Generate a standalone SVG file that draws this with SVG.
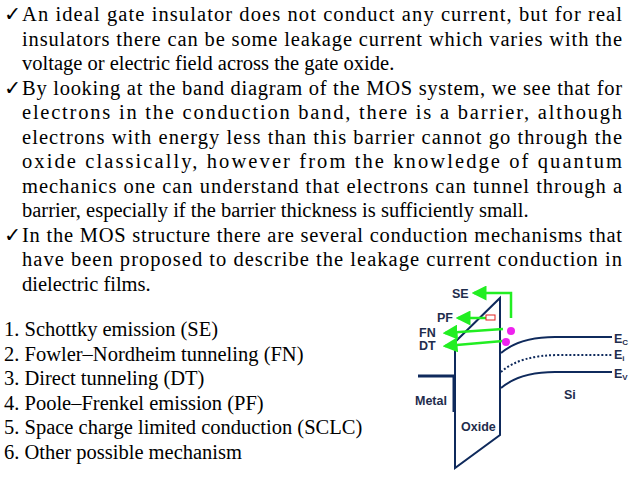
<svg xmlns="http://www.w3.org/2000/svg" width="638" height="478" viewBox="0 0 638 478">
<style>
.t{font-size:20.5px;fill:#000}
.l{font-family:"Liberation Sans",Arial,sans-serif;font-weight:bold;font-size:12.5px;fill:#1f2d4d}
.b{fill:none;stroke:#0f2a5c;stroke-width:2}
.g{stroke:#22ee22;stroke-width:2.5;fill:none;marker-end:url(#ah)}
</style>
<defs>
<marker id="ah" markerWidth="6" markerHeight="6" refX="5" refY="3" orient="auto" markerUnits="strokeWidth"><path d="M0,0 L6,3 L0,6 z" fill="#22ee22"/></marker>
</defs>
<rect width="638" height="478" fill="#fff"/>
<g id="text" font-family="Liberation Serif, Times New Roman, serif">
<text class="t" x="4" y="21" font-family="DejaVu Sans, sans-serif" font-size="16">✓</text>
<text class="t" x="22" y="21" textLength="600" lengthAdjust="spacing">An ideal gate insulator does not conduct any current, but for real</text>
<text class="t" x="22" y="45.5" textLength="600" lengthAdjust="spacing">insulators there can be some leakage current which varies with the</text>
<text class="t" x="22" y="70">voltage or electric field across the gate oxide.</text>
<text class="t" x="4" y="94.5" font-family="DejaVu Sans, sans-serif" font-size="16">✓</text>
<text class="t" x="22" y="94.5" textLength="600" lengthAdjust="spacing">By looking at the band diagram of the MOS system, we see that for</text>
<text class="t" x="22" y="119" textLength="600" lengthAdjust="spacing">electrons in the conduction band, there is a barrier, although</text>
<text class="t" x="22" y="143.5" textLength="600" lengthAdjust="spacing">electrons with energy less than this barrier cannot go through the</text>
<text class="t" x="22" y="168" textLength="600" lengthAdjust="spacing">oxide classically, however from the knowledge of quantum</text>
<text class="t" x="22" y="192.5" textLength="600" lengthAdjust="spacing">mechanics one can understand that electrons can tunnel through a</text>
<text class="t" x="22" y="217">barrier, especially if the barrier thickness is sufficiently small.</text>
<text class="t" x="4" y="241.5" font-family="DejaVu Sans, sans-serif" font-size="16">✓</text>
<text class="t" x="22" y="241.5" textLength="600" lengthAdjust="spacing">In the MOS structure there are several conduction mechanisms that</text>
<text class="t" x="22" y="266" textLength="600" lengthAdjust="spacing">have been proposed to describe the leakage current conduction in</text>
<text class="t" x="22" y="290.5">dielectric films.</text>
<text class="t" x="4" y="336">1.  Schottky emission (SE)</text>
<text class="t" x="4" y="360.5">2.  Fowler–Nordheim tunneling (FN)</text>
<text class="t" x="4" y="385">3.  Direct tunneling (DT)</text>
<text class="t" x="4" y="409.5">4.  Poole–Frenkel emission (PF)</text>
<text class="t" x="4" y="434">5.  Space charge limited conduction (SCLC)</text>
<text class="t" x="4" y="458.5">6.  Other possible mechanism</text>
</g>
<g id="oxide">
<polygon class="b" points="455,342 500,298 500,435 455,468"/>
<text class="l" x="461" y="431">Oxide</text>
</g>
<g id="metal">
<line x1="418" y1="376" x2="455" y2="376" stroke="#0f2a5c" stroke-width="3"/>
<line x1="454" y1="376" x2="454" y2="412" stroke="#0f2a5c" stroke-width="3"/>
<text class="l" x="415" y="405">Metal</text>
</g>
<g id="bands">
<path class="b" d="M501,353 Q520,337 555,337 L612,337"/>
<path class="b" d="M501,372 Q520,355 560,355 L612,355" stroke-dasharray="2,2"/>
<path class="b" d="M501,388 Q520,372 555,372 L612,372"/>
<text class="l" x="614" y="343">E<tspan font-size="8" dy="2">C</tspan></text>
<text class="l" x="614" y="359">E<tspan font-size="8" dy="2">i</tspan></text>
<text class="l" x="614" y="378">E<tspan font-size="8" dy="2">V</tspan></text>
<text class="l" x="564" y="399">Si</text>
</g>
<g id="connectors">
<polyline class="g" points="511,318 511,293 474,293"/>
<line class="g" x1="486" y1="318" x2="458" y2="318"/>
<line class="g" x1="503" y1="329" x2="445" y2="333"/>
<line class="g" x1="503" y1="341" x2="445" y2="346"/>
</g>
<g id="marks">
<rect x="486" y="315" width="9" height="5" fill="none" stroke="#e02020" stroke-width="1"/>
<circle cx="511" cy="331" r="4" fill="#ee22ee"/>
<circle cx="506" cy="342" r="4" fill="#ee22ee"/>
<text class="l" x="452" y="298">SE</text>
<text class="l" x="437" y="322">PF</text>
<text class="l" x="419" y="337">FN</text>
<text class="l" x="419" y="350">DT</text>
</g>
</svg>
